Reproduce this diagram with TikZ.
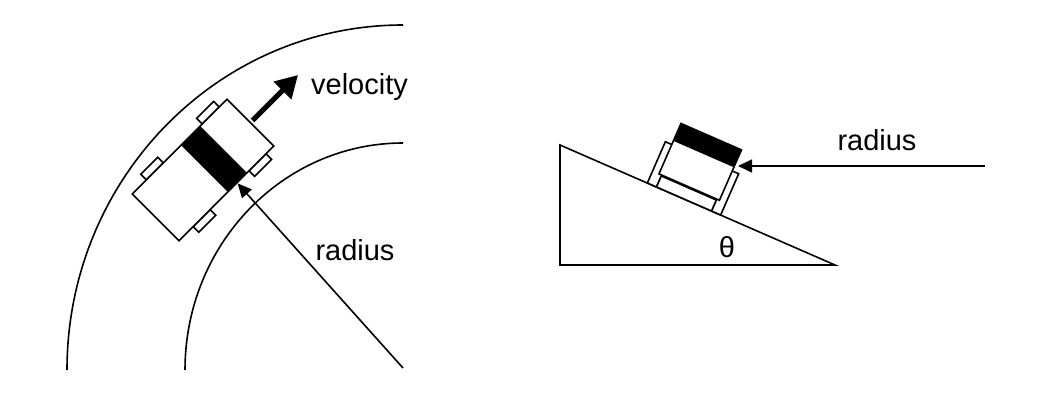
\documentclass[tikz,border=0pt]{standalone}
\usepackage{fontspec}
\setmainfont{Liberation Sans}
\usetikzlibrary{arrows.meta}
\begin{document}
\begin{tikzpicture}[x=1pt,y=1pt,line width=1.6pt,
  arr/.style={-{Triangle[length=14pt,width=13pt]}},
  lbl/.style={font=\fontsize{29}{34}\selectfont}]
\useasboundingbox (0,0) rectangle (1056,418);
% track
\draw (67,48) arc[start angle=180,end angle=90,x radius=336,y radius=345];
\draw (185,48) arc[start angle=180,end angle=90,x radius=218,y radius=227];
% left car
\begin{scope}[shift={(203,248)},rotate=45]
  \foreach \s in {1,-1}{
    \draw[fill=white] (32,{\s*33}) rectangle (56,{\s*41});
    \draw[fill=white] (-47,{\s*33}) rectangle (-23,{\s*41});}
  \draw[fill=white] (-67,-33) rectangle (67,33);
  \fill (2,-33) rectangle (29,33);
  \coordinate (vs) at (70,0);
  \coordinate (lc) at (15,-34);
\end{scope}
\coordinate (ve) at (298,343);
\draw[line width=5pt,-{Triangle[length=22pt,width=24pt]}] (vs) -- (ve);
\node[lbl,anchor=west] (vel) at (307,331) {velocity};
\coordinate (r1) at (403,50);
\draw[arr] (r1) -- (lc);
\node[lbl] (rad1) at (355,168) {radius};
% incline
\draw (560,273) -- (560,153) -- (835,153) -- cycle;
\node[lbl] (th) at (727,171) {θ};
\begin{scope}[shift={(684,219)},rotate=-23.6]
  \draw[fill=white] (-40,0) rectangle (-30,45);
  \draw[fill=white] (30,0) rectangle (40,45);
  \draw[fill=white] (-30,0) rectangle (30,12);
  \draw[fill=white] (-33,13) rectangle (33,68);
  \fill (-33,49) rectangle (33,68);
\end{scope}
\coordinate (r2) at (985,252);
\coordinate (c2) at (738,252);
\draw[arr] (r2) -- (c2);
\node[lbl] (rad2) at (877,278) {radius};
\end{tikzpicture}
\end{document}
